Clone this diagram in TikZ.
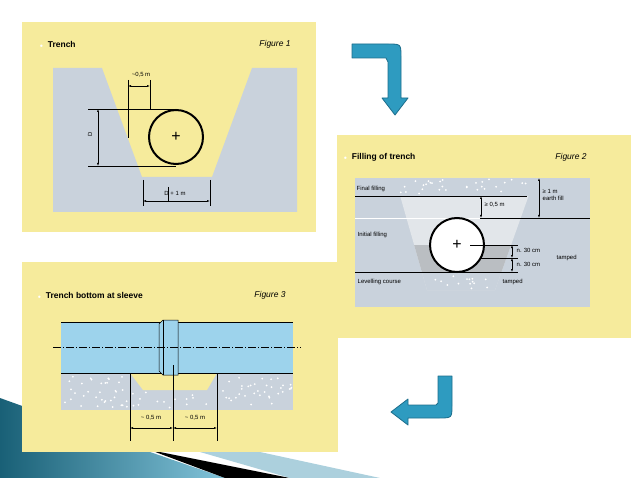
\documentclass[tikz,border=0pt]{standalone}
\usepackage{fontspec}
\setmainfont{Liberation Sans}
\usetikzlibrary{arrows.meta}
\definecolor{pyel}{HTML}{F6EB9C}
\definecolor{pgray}{HTML}{C9D2DC}
\definecolor{plight}{HTML}{E2E6EA}
\definecolor{pdark}{HTML}{A9AEB3}
\definecolor{pblue}{HTML}{9DD3EC}
\definecolor{abl}{HTML}{2E9BC0}
\definecolor{abd}{HTML}{1D6E8C}
\definecolor{tealc}{HTML}{1F7894}
\tikzset{
 dim/.style={line width=0.5bp,{Latex[length=3bp,width=2bp]}-{Latex[length=3bp,width=2bp]}},
 thin/.style={line width=0.5bp},
 small/.style={font=\fontsize{6}{7}\selectfont,inner sep=0.5bp},
 ttl/.style={font=\fontsize{8.5}{10}\selectfont\bfseries,anchor=west},
 fig/.style={font=\fontsize{8.5}{10}\selectfont\itshape},
 plus/.style={font=\fontsize{16}{16}\selectfont},
 bendarrow/.style={fill=abl,draw=abd,line width=0.8bp,line join=round},
}
% count, x0, x1, y0, y1, seed
\newcommand{\sprinkle}[6]{\pgfmathsetseed{#6}\foreach \i in {1,...,#1}{\fill[white] ({#2+rnd*(#3-#2)},{#4+rnd*(#5-#4)}) circle (1bp);}}
\begin{document}
\begin{tikzpicture}[x=1bp,y=-1bp]
\useasboundingbox (0,0) rectangle (638,478);
\fill[white] (0,0) rectangle (638,478);
% bottom-left decoration
\shade[left color=tealc!80!black,right color=abl!60] (0,398) -- (150,452) -- (225,478) -- (0,478) -- cycle;
\fill[black] (150,450) -- (290,478) -- (225,478) -- cycle;
\fill[plight!70!abl] (260,452) -- (380,478) -- (290,478) -- (200,452) -- cycle;
% ===== Panel 1
\fill[pyel] (22,22) rectangle (316,232);
\fill[pgray] (53,68) -- (102,68) -- (142,177) -- (212,177) -- (252,68) -- (297,68) -- (297,212) -- (53,212) -- cycle;
\node[ttl] (t1) at (36,44) {\textcolor{white}{\tiny$\bullet$}\ \ Trench};
\node[fig] (f1) at (275,44) {Figure 1};
\node[circle,draw,line width=2bp,minimum size=54bp,inner sep=0] (p1) at (176,137) {};
\node[plus] (c1) at (176,137) {+};
\coordinate (d1a) at (88,109); \coordinate (d1b) at (176,109);
\coordinate (d1c) at (88,166); \coordinate (d1d) at (176,166);
\draw[thin] (d1a) -- (d1b); \draw[thin] (d1c) -- (d1d);
\draw[dim] (98,109) -- (98,166);
\node[small,rotate=90] (dl) at (90,134) {D};
\draw[thin] (128,80) -- (128,138); \draw[thin] (150,80) -- (150,109);
\draw[dim] (128,86) -- (150,86);
\node[small] (h1) at (141,75) {\textasciitilde 0,5 m};
\draw[thin] (143,180) -- (143,206); \draw[thin] (210,180) -- (210,206);
\draw[dim] (143,201) -- (210,201);
\draw[thin] (168,187) -- (168,201);
\node[small] (w1) at (175,193) {D + 1 m};
% ===== Panel 2
\fill[pyel] (337,135) rectangle (631,338);
\fill[pgray] (355,178) rectangle (590,307);
\fill[plight] (395,178) -- (535,178) -- (495,290) -- (427,290) -- cycle;
\begin{scope}
\clip (395,178) -- (535,178) -- (495,290) -- (427,290) -- cycle;
\fill[pdark!80] (355,245) rectangle (590,272);
\fill[pgray] (355,272) rectangle (590,290);
\end{scope}
\fill[pgray] (355,178) rectangle (590,196);
\sprinkle{30}{400}{530}{179}{195}{11}
\sprinkle{14}{430}{495}{274}{289}{22}
\fill[white] (355,218) rectangle (590,219.5);
\draw[line width=0.8bp] (355,196) -- (527,196);
\draw[line width=0.8bp] (480,218) -- (590,218);
\draw[line width=0.8bp] (355,272) -- (518,272);
\node[circle,draw,fill=white,line width=2bp,minimum size=54bp,inner sep=0] (p2) at (457,245) {};
\node[plus] (c2) at (457,245) {+};
\draw[thin] (470,245) -- (518,245); \draw[thin] (480,258) -- (518,258);
\draw[dim] (512,245) -- (512,258); \draw[dim] (512,258) -- (512,272);
\draw[dim] (481,196) -- (481,218);
\draw[dim] (539,178) -- (539,218);
\node[ttl] (t2) at (340,157) {\textcolor{white}{\tiny$\bullet$}\ \ Filling of trench};
\node[fig] (f2) at (571,157) {Figure 2};
\node[small,anchor=west] (a1) at (356,189) {Final filling};
\node[small,anchor=west] (a2) at (357,235) {Initial filling};
\node[small,anchor=west] (a3) at (357,282) {Levelling course};
\node[small,anchor=west] (a4) at (484,205) {≥ 0,5 m};
\node[small,anchor=west,align=left] (a5) at (542,195) {≥ 1 m\\earth fill};
\node[small,anchor=west] (a6) at (516,250) {n. 30 cm};
\node[small,anchor=west] (a7) at (516,264) {n. 30 cm};
\node[small,anchor=west] (a8) at (556,258) {tamped};
\node[small,anchor=west] (a9) at (502,282) {tamped};
% ===== Panel 3
\fill[pyel] (22,262) rectangle (338,452);
\fill[pgray] (61,373) rectangle (293,410);
\fill[pyel] (130,373) -- (217,373) -- (207,390) -- (143,390) -- cycle;
\sprinkle{35}{62}{128}{376}{408}{33}
\sprinkle{35}{219}{292}{376}{408}{44}
\sprinkle{14}{132}{215}{392}{408}{55}
\fill[pblue] (61,322) rectangle (293,373);
\draw[thin] (61,322) -- (293,322); \draw[thin] (61,373) -- (293,373);
\draw[thin,fill=pblue] (159,324) -- (163,320) -- (178,320) -- (178,375) -- (163,375) -- (159,371) -- cycle;
\draw[thin] (163,320) -- (163,375);
\draw[thin,dash pattern=on 8bp off 2bp on 1bp off 2bp] (53,347) -- (301,347);
\draw[thin] (130,373) -- (130,441); \draw[thin] (173,365) -- (173,441); \draw[thin] (217,373) -- (217,441);
\draw[dim] (130,428) -- (173,428); \draw[dim] (173,428) -- (217,428);
\node[small] (b1) at (151,418) {\textasciitilde\ 0,5 m};
\node[small] (b2) at (195,418) {\textasciitilde\ 0,5 m};
\node[ttl] (t3) at (34,295) {\textcolor{white}{\tiny$\bullet$}\ \ Trench bottom at sleeve};
\node[fig] (f3) at (270,295) {Figure 3};
% ===== bent arrows
\draw[bendarrow] (352,44) -- (388,44) .. controls (401,44) .. (401,57) -- (401,98) -- (408,98) -- (395,115) -- (382,98) -- (388,98) -- (388,62) -- (386,58) -- (352,58) -- cycle;
\draw[bendarrow] (452,376) -- (452,405) .. controls (452,418) .. (439,418) -- (408,418) -- (408,425) -- (391,412) -- (408,399) -- (408,405) -- (436,405) -- (438,403) -- (438,376) -- cycle;
\end{tikzpicture}
\end{document}
